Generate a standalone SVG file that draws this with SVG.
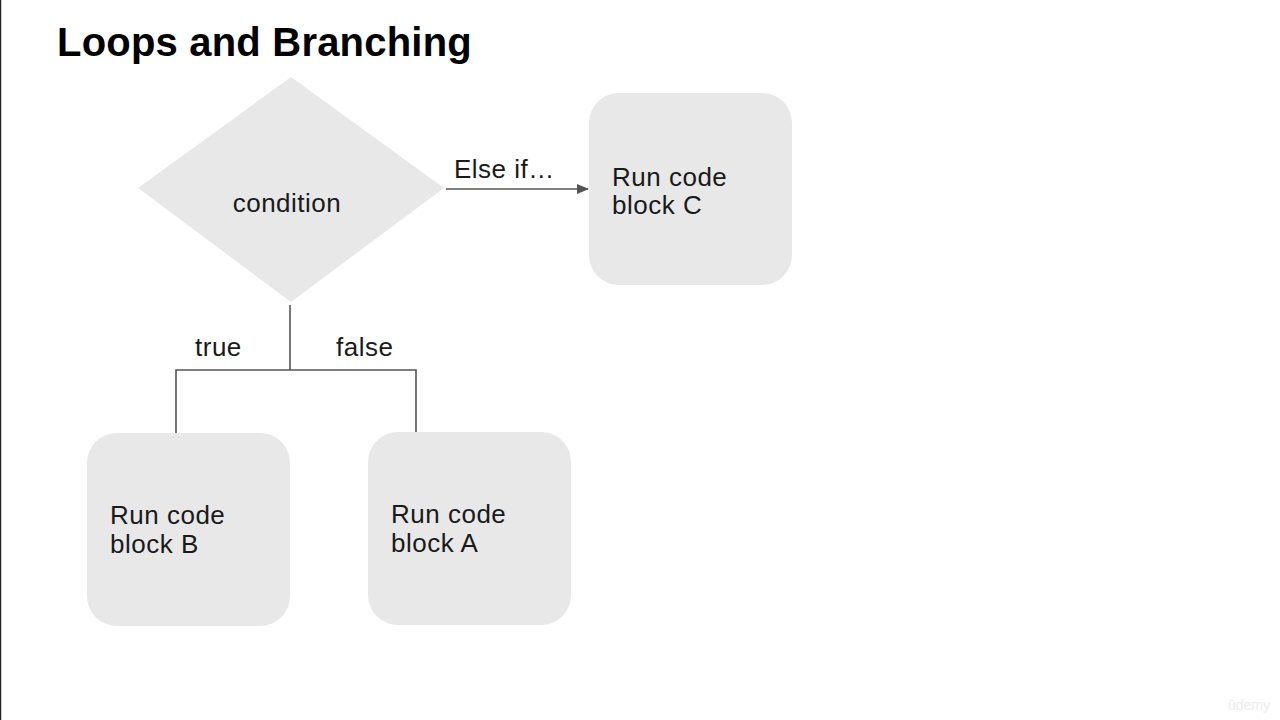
<svg xmlns="http://www.w3.org/2000/svg" width="1280" height="720" viewBox="0 0 1280 720">
<style>
.node{fill:#e8e8e8;}
.lbl{font-family:"Liberation Sans",Arial,sans-serif;font-size:26px;fill:#1a1a1a;letter-spacing:0.5px;}
.conn{stroke:#555;stroke-width:1.6;fill:none;}
</style>
<defs>
<marker id="arr" markerWidth="12" markerHeight="10" refX="11" refY="5" orient="auto" markerUnits="userSpaceOnUse">
<path d="M0,0 L12,5 L0,10 Z" fill="#555"/>
</marker>
</defs>
<rect x="0" y="0" width="1280" height="720" fill="#ffffff"/>
<line x1="0.5" y1="0" x2="0.5" y2="720" stroke="#222" stroke-width="1.5"/>
<text x="57" y="56" font-family="'Liberation Sans',Arial,sans-serif" font-size="40" font-weight="bold" fill="#000" letter-spacing="0.2">Loops and Branching</text>

<g id="connectors">
<line class="conn" x1="446" y1="189" x2="588" y2="189" marker-end="url(#arr)"/>
<polyline class="conn" points="290,305 290,370"/>
<polyline class="conn" points="176,433 176,370 416,370 416,433"/>
<text class="lbl" x="454" y="178">Else if…</text>
<text class="lbl" x="195" y="356">true</text>
<text class="lbl" x="336" y="356">false</text>
</g>

<g id="condition">
<polygon class="node" points="291,77 444,188 291,302 138,188"/>
<text class="lbl" x="287" y="212" text-anchor="middle" letter-spacing="2">condition</text>
</g>

<g id="blockC">
<rect class="node" x="589" y="93" width="203" height="192" rx="30"/>
<text class="lbl" x="612" y="186">Run code</text>
<text class="lbl" x="612" y="214">block C</text>
</g>

<g id="blockB">
<rect class="node" x="87" y="433" width="203" height="193" rx="30"/>
<text class="lbl" x="110" y="524">Run code</text>
<text class="lbl" x="110" y="553">block B</text>
</g>

<g id="blockA">
<rect class="node" x="368" y="432" width="203" height="193" rx="30"/>
<text class="lbl" x="391" y="523">Run code</text>
<text class="lbl" x="391" y="552">block A</text>
</g>

<text x="1228" y="710" font-family="'Liberation Sans',Arial,sans-serif" font-size="14" fill="#ececec">ūdemy</text>
</svg>
